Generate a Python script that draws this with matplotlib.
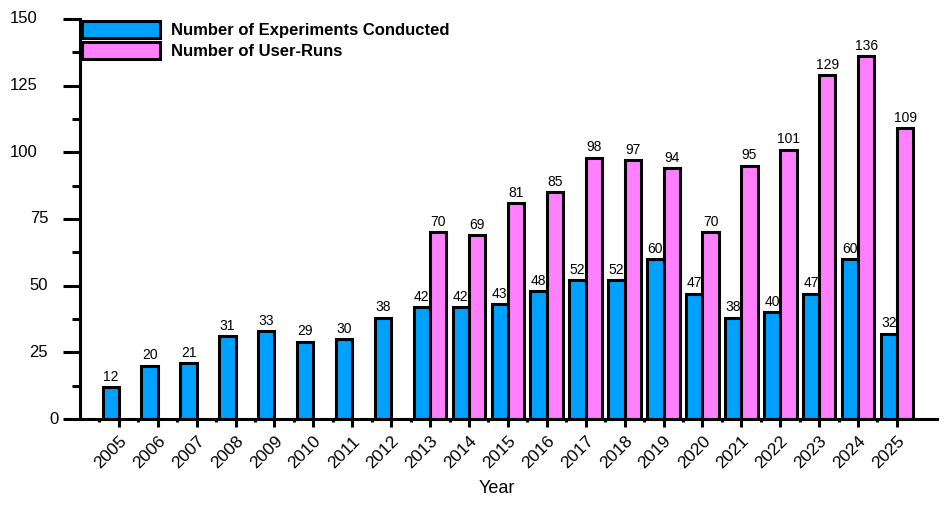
import matplotlib
matplotlib.use("Agg")
import matplotlib.pyplot as plt
import matplotlib.transforms as mtransforms
from matplotlib.ticker import MultipleLocator
from matplotlib.patches import Patch
import numpy as np

plt.rcParams['font.family'] = ['Liberation Sans', 'DejaVu Sans']

# data
years = [2005, 2006, 2007, 2008, 2009, 2010, 2011, 2012, 2013, 2014, 2015,
         2016, 2017, 2018, 2019, 2020, 2021, 2022, 2023, 2024, 2025]
experiments = [12, 20, 21, 31, 33, 29, 30, 38, 42, 42, 43,
               48, 52, 52, 60, 47, 38, 40, 47, 60, 32]
user_runs = [None, None, None, None, None, None, None, None, 70, 69, 81,
             85, 98, 97, 94, 70, 95, 101, 129, 136, 109]
yticks = [0, 25, 50, 75, 100, 125, 150]

blue = '#00A0FF'
pink = '#FF80FF'
w = 0.42
lw = 2.2

fig = plt.figure(figsize=(9.5, 5.09), dpi=100)
ax = fig.add_axes([0.0842, 0.1768, 0.9021, 0.7859])

x = np.arange(len(years))
ax.bar(x - w / 2, experiments, w, color=blue, edgecolor='black', linewidth=lw)
for xi, v in zip(x, experiments):
    ax.text(xi - w / 2, v + 1.2, str(v), ha='center', va='bottom', fontsize=10)

ux = [xi for xi, v in zip(x, user_runs) if v is not None]
uv = [v for v in user_runs if v is not None]
ax.bar(np.array(ux) + w / 2, uv, w, color=pink, edgecolor='black', linewidth=lw)
for xi, v in zip(ux, uv):
    ax.text(xi + w / 2, v + 1.2, str(v), ha='center', va='bottom', fontsize=10)

ax.set_xlim(-1, 21.03)
ax.set_ylim(0, 150)
ax.set_xticks(x)
ax.set_xticklabels([str(y) for y in years], rotation=45, ha='right',
                   rotation_mode='anchor', fontsize=12.5)
ax.set_xticks(x - 0.5, minor=True)
ax.set_yticks(yticks)
ax.set_yticklabels([])
ax.yaxis.set_minor_locator(MultipleLocator(12.5))
ax.tick_params(axis='y', which='major', length=12, width=lw)
ax.tick_params(axis='y', which='minor', length=6, width=lw)
ax.tick_params(axis='x', which='major', length=5.5, width=lw, pad=5)
ax.tick_params(axis='x', which='minor', length=2.5, width=lw)

# y labels as in the original: shorter numbers sit further right
for t in yticks:
    s = str(t)
    dx = (-10.5 - 15.3 * len(s)) / 100.0
    tr = ax.get_yaxis_transform() + mtransforms.ScaledTranslation(dx, 0, fig.dpi_scale_trans)
    ax.text(0, t, s, transform=tr, ha='center', va='center', fontsize=12)

for s in ['top', 'right']:
    ax.spines[s].set_visible(False)
for s in ['left', 'bottom']:
    ax.spines[s].set_linewidth(lw)

ax.set_xlabel('Year', fontsize=13, labelpad=6)
ax.xaxis.label.set_x(0.4866)

handles = [Patch(facecolor=blue, edgecolor='black', linewidth=lw),
           Patch(facecolor=pink, edgecolor='black', linewidth=lw)]
ax.legend(handles, ['Number of Experiments Conducted', 'Number of User-Runs'],
          loc='upper left', frameon=False, borderaxespad=0.1,
          handlelength=4.67, handleheight=1.12, labelspacing=0.25,
          handletextpad=0.65, borderpad=0.05,
          prop={'weight': 'bold', 'size': 12})

fig.savefig('out.png', dpi=100)
